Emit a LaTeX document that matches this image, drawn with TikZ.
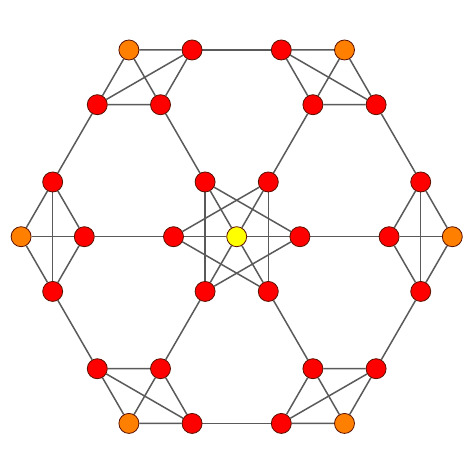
\documentclass[tikz,border=0pt]{standalone}
\usetikzlibrary{calc}
\pgfdeclarelayer{bg}
\pgfsetlayers{bg,main}
\definecolor{edgegray}{HTML}{5A5A5A}
\definecolor{vred}{HTML}{FF0000}
\definecolor{vorange}{HTML}{FF8000}
\definecolor{vyellow}{HTML}{FFFF00}
\definecolor{vline}{HTML}{5A1000}
\tikzset{
  vtx/.style={circle, draw=vline, line width=0.8pt, minimum size=20pt, inner sep=0pt},
  rv/.style={vtx, fill=vred},
  ov/.style={vtx, fill=vorange},
  yv/.style={vtx, fill=vyellow},
  edge/.style={draw=edgegray, line width=1.5pt},
}
\begin{document}
\begin{tikzpicture}[x=1pt,y=-1pt]
\useasboundingbox (0,0) rectangle (474,474);
\begin{pgfonlayer}{bg}
  \fill[white] (0,0) rectangle (474,474);
\end{pgfonlayer}
\begin{scope}[shift={(236.7,236.7)}, y=1pt]
  \node[yv] (c) at (0,0) {};
  \foreach \k in {0,...,5} {
    \pgfmathsetmacro\a{60*\k}
    \node[rv] (h\k) at (\a:63.2) {};
    \node[ov] (o\k) at (\a:215.6) {};
    \node[rv] (i\k) at (\a:152.4) {};
    \node[rv] (p\k) at (\a+16.56:192) {};
    \node[rv] (m\k) at (\a-16.56:192) {};
  }
  \begin{pgfonlayer}{bg}
    \foreach \k in {0,...,5} {
      \pgfmathtruncatemacro\kk{mod(\k+2,6)}
      \pgfmathtruncatemacro\kn{mod(\k+1,6)}
      \draw[edge] (c) -- (h\k);
      \draw[edge] (h\k) -- (h\kk);
      \draw[edge] (h\k) -- (i\k);
      \draw[edge] (o\k) -- (i\k);
      \draw[edge] (o\k) -- (p\k);
      \draw[edge] (o\k) -- (m\k);
      \draw[edge] (i\k) -- (p\k);
      \draw[edge] (i\k) -- (m\k);
      \draw[edge] (p\k) -- (m\k);
      \draw[edge] (p\k) -- (m\kn);
    }
  \end{pgfonlayer}
\end{scope}
\end{tikzpicture}
\end{document}
